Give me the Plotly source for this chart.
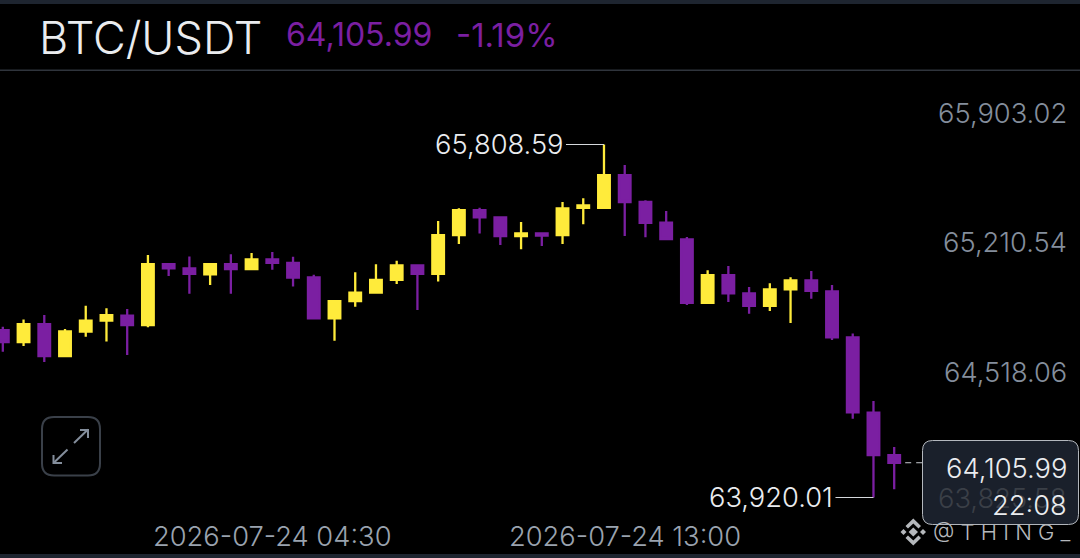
import pandas as pd
import plotly.graph_objects as go

candle_times = pd.date_range("2026-07-23 22:00", periods=44, freq="30min")

opens = [64816, 64752, 64847, 64677, 64807, 64866, 64893, 64843, 65168, 65146, 65114,
         65169, 65142, 65194, 65175, 65098, 64879, 64971, 65016, 65085, 65162, 65116,
         65324, 65458, 65419, 65319, 65333, 65324, 65470, 65470, 65644, 65501, 65390,
         65301, 64962, 65110, 65012, 64946, 65034, 65082, 65023, 64777, 64374, 64147]
highs = [64834, 64873, 64896, 64821, 64946, 64932, 64928, 65217, 65175, 65210, 65169,
         65221, 65228, 65233, 65208, 65112, 64971, 65125, 65168, 65187, 65162, 65399,
         65467, 65470, 65419, 65394, 65333, 65501, 65521, 65808.59, 65699, 65510, 65453,
         65314, 65136, 65159, 65046, 65066, 65098, 65132, 65057, 64798, 64436, 64190]
lows = [64700, 64731, 64645, 64673, 64780, 64754, 64682, 64831, 65105, 65010, 65057,
        65010, 65137, 65139, 65049, 64877, 64759, 64941, 65016, 65062, 64923, 65075,
        65276, 65333, 65271, 65248, 65266, 65276, 65382, 65470, 65319, 65312, 65301,
        64950, 64957, 64966, 64903, 64918, 64854, 64984, 64763, 64342, 63920.01, 63964]
closes = [64752, 64847, 64677, 64809, 64866, 64895, 64843, 65168, 65146, 65116, 65169,
          65142, 65194, 65176, 65097, 64879, 64971, 65016, 65084, 65162, 65116, 65323,
          65458, 65419, 65319, 65333, 65321, 65467, 65483, 65644, 65501, 65390, 65303,
          64962, 65110, 65012, 64946, 65034, 65082, 65025, 64777, 64376, 64147, 64105.99]

price_ticks = [65903.02, 65210.54, 64518.06]
hidden_tick = 63825.58
time_ticks = ["2026-07-24 04:30", "2026-07-24 13:00"]

YELLOW = "#FFEB3B"
PURPLE = "#7B1FA2"
GREY = "#848E9C"
WHITE = "#EAECEF"
FONT = "Inter"
TEXT_SIZE = 27.3
W, H = 1080, 558


def px(x, y):
    return f"{x / W:.5f},{1 - y / H:.5f}"


def rounded(x0, y0, x1, y1, r):
    return (f"M{px(x0 + r, y0)} L{px(x1 - r, y0)} Q{px(x1, y0)} {px(x1, y0 + r)} "
            f"L{px(x1, y1 - r)} Q{px(x1, y1)} {px(x1 - r, y1)} L{px(x0 + r, y1)} "
            f"Q{px(x0, y1)} {px(x0, y1 - r)} L{px(x0, y0 + r)} Q{px(x0, y0)} {px(x0 + r, y0)} Z")


def poly(points, close=False):
    p = "M" + " L".join(px(a, b) for a, b in points)
    return p + " Z" if close else p


def paper_shape(path, **kw):
    return dict(type="path", xref="paper", yref="paper", path=path, layer="above", **kw)


def label(text, x, y, size=TEXT_SIZE, color=GREY, anchor="right", weight=300):
    return dict(text=text, x=x / W, y=1 - y / H, xref="paper", yref="paper", xanchor=anchor,
                yanchor="middle", showarrow=False, font=dict(family=FONT, size=size, color=color, weight=weight))


fig = go.Figure()
fig.add_trace(go.Candlestick(
    x=candle_times, open=opens, high=highs, low=lows, close=closes,
    increasing=dict(line=dict(color=YELLOW, width=2.3), fillcolor=YELLOW),
    decreasing=dict(line=dict(color=PURPLE, width=2.3), fillcolor=PURPLE),
    showlegend=False,
))

shapes = [
    # last price dashes, under the candles
    dict(type="line", xref="x", yref="y", x0=candle_times[-1], x1="2026-07-24 23:00",
         y0=closes[-1], y1=closes[-1], layer="below", line=dict(color="#C8CCD2", width=1, dash="6px,5px")),
    # header and footer rules
    paper_shape(poly([(0, 0), (W, 0), (W, 4), (0, 4)], True), fillcolor="#1E2530", line_width=0),
    paper_shape(poly([(0, 69.5), (W, 69.5), (W, 71), (0, 71)], True), fillcolor="#2F343C", line_width=0),
    paper_shape(poly([(0, 554), (W, 554), (W, H), (0, H)], True), fillcolor="#1E2530", line_width=0),
    # price box
    paper_shape(rounded(922.5, 440.5, 1078.5, 524.5, 10), fillcolor="#1A202B", line=dict(color="#B4B8BE", width=1)),
    # expand button
    paper_shape(rounded(42, 417, 100, 475.5, 12), line=dict(color="#3A4049", width=2)),
    paper_shape(poly([(74, 443), (88, 429.5)]), line=dict(color=GREY, width=2)),
    paper_shape(poly([(80, 430), (88, 430), (88, 438)]), line=dict(color=GREY, width=2)),
    paper_shape(poly([(53.5, 463), (67.5, 449.5)]), line=dict(color=GREY, width=2)),
    paper_shape(poly([(53.5, 455), (53.5, 463), (62, 463)]), line=dict(color=GREY, width=2)),
    # watermark logo
    paper_shape(poly([(913.3, 527.5), (918, 532), (913.3, 536.5), (908.6, 532)], True), fillcolor="#B5B8BC", line_width=0),
    paper_shape(poly([(903.5, 529), (906.5, 532), (903.5, 535), (900.5, 532)], True), fillcolor="#B5B8BC", line_width=0),
    paper_shape(poly([(923, 529), (926, 532), (923, 535), (920, 532)], True), fillcolor="#B5B8BC", line_width=0),
    paper_shape(poly([(913.3, 518.5), (921, 526), (918.5, 528.5), (913.3, 523.5), (908, 528.5), (905.5, 526)], True),
                fillcolor="#B5B8BC", line_width=0),
    paper_shape(poly([(913.3, 545.5), (921, 538), (918.5, 535.5), (913.3, 540.5), (908, 535.5), (905.5, 538)], True),
                fillcolor="#B5B8BC", line_width=0),
]

annotations = [
    label("BTC/USDT", 37, 37, size=45, color=WHITE, anchor="left"),
    label("64,105.99", 284, 35, size=32, color=PURPLE, anchor="left", weight=400),
    label("-1.19%", 454, 35, size=33, color=PURPLE, anchor="left", weight=400),
    label(f"{hidden_tick:,.2f}", 1069, 499, color="#3A3F47"),
    label("64,105.99", 1069, 468, color=WHITE),
    label("22:08", 1069, 505, color=WHITE),
    label("@ T H I N G _", 1073, 532, size=22, color="#B5B8BC"),
]
for tick in price_ticks:
    annotations.append(dict(text=f"{tick:,.2f}", x=1069 / W, y=tick, xref="paper", yref="y", xanchor="right",
                            yanchor="bottom", yshift=-5, showarrow=False,
                            font=dict(family=FONT, size=TEXT_SIZE, color=GREY, weight=300)))
for t in time_ticks:
    annotations.append(dict(text=t, x=t, y=1 - 536 / H, xref="x", yref="paper", xanchor="center",
                            yanchor="middle", showarrow=False,
                            font=dict(family=FONT, size=TEXT_SIZE, color="#9AA3AF", weight=300)))
# high and low markers
high_at = highs.index(max(highs))
low_at = lows.index(min(lows))
for i, value in [(high_at, highs[high_at]), (low_at, lows[low_at])]:
    annotations.append(dict(text=f"{value:,.2f}", x=candle_times[i], y=value, xref="x", yref="y", axref="pixel",
                            ayref="pixel", ax=-38, ay=0, xanchor="right", yanchor="middle", showarrow=True,
                            arrowhead=0, arrowwidth=1, arrowcolor="#D5D8DC", standoff=0, startstandoff=0,
                            font=dict(family=FONT, size=TEXT_SIZE, color=WHITE, weight=300)))

fig.update_layout(
    width=W, height=H,
    margin=dict(l=0, r=0, t=0, b=0),
    paper_bgcolor="#000000", plot_bgcolor="#000000",
    boxgap=0.2,
    showlegend=False,
    shapes=shapes,
    annotations=annotations,
    xaxis=dict(range=["2026-07-23 21:55:55", "2026-07-24 23:58:53"], rangeslider=dict(visible=False),
               visible=False, showgrid=False),
    yaxis=dict(range=[63596.37, 66581.67], visible=False, showgrid=False),
)

fig.write_html("out.html", config=dict(displayModeBar=False),
               post_script="document.body.style.margin='0';document.body.style.background='#000';")
